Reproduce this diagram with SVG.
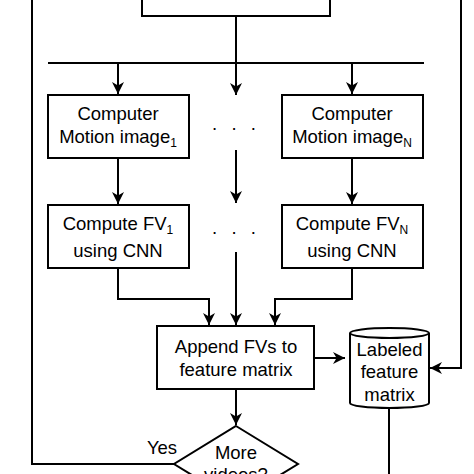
<svg xmlns="http://www.w3.org/2000/svg" width="474" height="474" viewBox="0 0 474 474">
<defs>
<marker id="ah" viewBox="0 0 10 10" refX="10" refY="5" markerWidth="12" markerHeight="12" markerUnits="userSpaceOnUse" orient="auto">
<path d="M0,0 L10,5 L0,10 L3,5 Z" fill="#000"/>
</marker>
<style>
.b{fill:#fff;stroke:#000;stroke-width:2}
.l{fill:none;stroke:#000;stroke-width:2}
.t{font-family:"Liberation Sans",Arial,sans-serif;font-size:18.5px;text-anchor:middle;fill:#000}
.s{font-size:12px}
</style>
</defs>
<rect width="474" height="474" fill="#fff"/>
<g id="connectors">
<path class="l" d="M236,16 V63"/>
<path class="l" d="M48,63 H424" stroke-width="2.5"/>
<path class="l" d="M118,63 V94" marker-end="url(#ah)"/>
<path class="l" d="M236,63 V95" marker-end="url(#ah)"/>
<path class="l" d="M352,63 V94" marker-end="url(#ah)"/>
<path class="l" d="M118,158 V204" marker-end="url(#ah)"/>
<path class="l" d="M236,150 V203" marker-end="url(#ah)"/>
<path class="l" d="M352,158 V204" marker-end="url(#ah)"/>
<path class="l" d="M118,268 V299 H209 V325" marker-end="url(#ah)"/>
<path class="l" d="M236,252 V325" marker-end="url(#ah)"/>
<path class="l" d="M352,268 V299 H275 V325" marker-end="url(#ah)"/>
<path class="l" d="M314,358 H345" marker-end="url(#ah)"/>
<path class="l" d="M461,0 V368 H430" marker-end="url(#ah)"/>
<path class="l" d="M236,389 V425" marker-end="url(#ah)"/>
<path class="l" d="M389,408 V474"/>
<path class="l" d="M174,464 H32 V0"/>
</g>
<g id="top-box"><rect class="b" x="142" y="-30" width="188" height="46"/></g>
<g id="motion1">
<rect class="b" x="48" y="95" width="141" height="63"/>
<text class="t" x="118" y="120">Computer</text>
<text class="t" x="118" y="143">Motion image<tspan class="s" dy="4">1</tspan></text>
</g>
<g id="dots1"><text class="t" x="236" y="134" letter-spacing="4">· · ·</text></g>
<g id="motionN">
<rect class="b" x="282" y="95" width="141" height="63"/>
<text class="t" x="352" y="120">Computer</text>
<text class="t" x="352" y="143">Motion image<tspan class="s" dy="4">N</tspan></text>
</g>
<g id="fv1">
<rect class="b" x="48" y="205" width="141" height="63"/>
<text class="t" x="118" y="230">Compute FV<tspan class="s" dy="4">1</tspan></text>
<text class="t" x="118" y="257">using CNN</text>
</g>
<g id="dots2"><text class="t" x="236" y="238" letter-spacing="4">· · ·</text></g>
<g id="fvN">
<rect class="b" x="282" y="205" width="141" height="63"/>
<text class="t" x="352" y="230">Compute FV<tspan class="s" dy="4">N</tspan></text>
<text class="t" x="352" y="257">using CNN</text>
</g>
<g id="append">
<rect class="b" x="157" y="326" width="157" height="63"/>
<text class="t" x="236" y="353">Append FVs to</text>
<text class="t" x="236" y="376">feature matrix</text>
</g>
<g id="labeled">
<path class="b" d="M350,333 V403 A39.5,5 0 0 0 429,403 V333 A39.5,5 0 0 0 350,333 Z"/>
<path class="l" d="M350,333 A39.5,5 0 0 0 429,333"/>
<text class="t" x="389.5" y="356">Labeled</text>
<text class="t" x="389.5" y="378">feature</text>
<text class="t" x="389.5" y="401">matrix</text>
</g>
<g id="decision">
<path class="b" d="M236,426 L298,464 L236,502 L174,464 Z"/>
<text class="t" x="236" y="459">More</text>
<text class="t" x="236" y="481">videos?</text>
</g>
<text class="t" x="162" y="454">Yes</text>
</svg>
